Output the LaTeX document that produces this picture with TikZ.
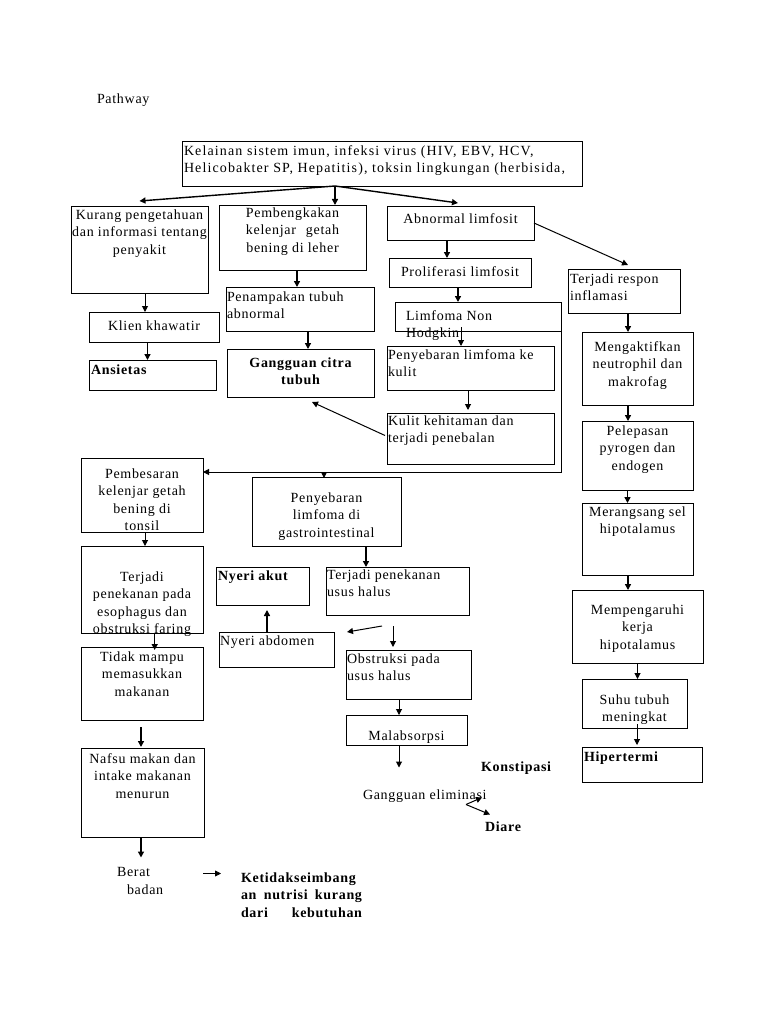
\documentclass[tikz,border=0pt]{standalone}
\usepackage{fontspec}
\setmainfont{Liberation Serif}[LetterSpace=5]
\usetikzlibrary{calc,arrows.meta}
\tikzset{
  box/.style={draw=black, line width=0.9pt, inner sep=0pt, outer sep=0pt},
  txt/.style={inner sep=0pt, outer sep=0pt, font=\fontsize{14}{17.5}\selectfont, execute at begin node={\rule{0pt}{10.5pt}}},
  bf/.style={font=\fontsize{14}{17.5}\selectfont\bfseries},
  arr/.style={line width=1pt, -{Triangle[length=6pt,width=6pt]}},
  arrthick/.style={arr, line width=1.4pt},
}
\newcommand\mybox[5]{\node[box, minimum width={(#4-#2)*1pt}, minimum height={(#5-#3)*1pt}] (#1) at ({(#2+#4)/2},{(#3+#5)/2}) {};}
\newcommand\mytext[6]{\node[txt,#2,anchor=#3] (#1) at (#4,{#5-6.5}) {#6};}
\begin{document}
\begin{tikzpicture}[x=1pt,y=-1pt]
\fill[white] (0,0) rectangle (768,1024);
\useasboundingbox (0,0) rectangle (768,1024);

% boxes
\mybox{top}{182}{141}{582}{186}
\mybox{kurang}{71}{206}{208}{293}
\mybox{pemb}{219}{205}{366}{270}
\mybox{abn}{387}{206}{534}{240}
\mybox{respon}{568}{269}{680}{313}
\mybox{prolif}{389}{258}{531}{287}
\mybox{lnh}{395}{302}{561}{331}
\mybox{kulita}{387}{346}{554}{390}
\mybox{kulitb}{387}{413}{554}{464}
\mybox{penamp}{226}{287}{374}{331}
\mybox{gcitra}{227}{349}{374}{397}
\mybox{klien}{89}{312}{219}{342}
\mybox{ansi}{89}{360}{216}{390}
\mybox{meng}{582}{332}{693}{405}
\mybox{pelep}{582}{421}{693}{490}
\mybox{meran}{582}{503}{693}{575}
\mybox{mempeng}{572}{590}{703}{663}
\mybox{suhu}{582}{679}{687}{728}
\mybox{hiper}{582}{747}{702}{782}
\mybox{pembes}{81}{458}{203}{532}
\mybox{esoph}{81}{546}{203}{633}
\mybox{tidak}{81}{647}{203}{720}
\mybox{nafsu}{81}{748}{204}{837}
\mybox{gastro}{252}{477}{401}{546}
\mybox{usus}{326}{567}{469}{615}
\mybox{nakut}{216}{567}{309}{605}
\mybox{nabd}{219}{632}{334}{667}
\mybox{obstr}{346}{650}{471}{699}
\mybox{malab}{346}{715}{467}{745}

% texts
\mytext{tpath}{}{north west}{97}{100}{Pathway}
\mytext{ttop}{align=left}{north west}{184}{152}{\addfontfeatures{LetterSpace=8}Kelainan sistem imun, infeksi virus (HIV, EBV, HCV,\\\addfontfeatures{LetterSpace=8}Helicobakter SP, Hepatitis), toksin lingkungan (herbisida,}
\mytext{tkurang}{align=center}{north}{139.5}{216}{Kurang pengetahuan\\dan informasi tentang\\penyakit}
\mytext{tpemb}{align=center}{north}{292.5}{214}{Pembengkakan\\kelenjar\hspace{10pt}getah\\bening di leher}
\mytext{tabn}{}{north}{460.5}{220}{Abnormal limfosit}
\mytext{trespon}{align=left}{north west}{570}{280}{Terjadi respon\\inflamasi}
\mytext{tprolif}{}{north}{460}{272}{Proliferasi limfosit}
\mytext{tlnh}{align=left}{north west}{406}{317}{Limfoma Non\\Hodgkin}
\mytext{tkulita}{align=left}{north west}{388}{356}{Penyebaran limfoma ke\\kulit}
\mytext{tkulitb}{align=left}{north west}{388}{422}{Kulit kehitaman dan\\terjadi penebalan}
\mytext{tpenamp}{align=left}{north west}{227}{298}{Penampakan tubuh\\abnormal}
\mytext{tgcitra}{align=center,bf}{north}{300.5}{364}{Gangguan citra\\tubuh}
\mytext{tklien}{}{north}{154}{326}{Klien khawatir}
\mytext{tansi}{bf}{north west}{91}{370}{Ansietas}
\mytext{tmeng}{align=center}{north}{637.5}{348}{Mengaktifkan\\neutrophil dan\\makrofag}
\mytext{tpelep}{align=center}{north}{637.5}{432}{Pelepasan\\pyrogen dan\\endogen}
\mytext{tmeran}{align=center}{north}{637.5}{513}{Merangsang sel\\hipotalamus}
\mytext{tmempeng}{align=center}{north}{637.5}{611}{Mempengaruhi\\kerja\\hipotalamus}
\mytext{tsuhu}{align=center}{north}{634.5}{701}{Suhu tubuh\\meningkat}
\mytext{thiper}{bf}{north west}{584}{757}{Hipertermi}
\mytext{tpembes}{align=center}{north}{142}{475}{Pembesaran\\kelenjar getah\\bening di\\tonsil}
\mytext{tesoph}{align=center}{north}{142}{578}{Terjadi\\penekanan pada\\esophagus dan\\obstruksi faring}
\mytext{ttidak}{align=center}{north}{142}{658}{Tidak mampu\\memasukkan\\makanan}
\mytext{tnafsu}{align=center}{north}{142.5}{760}{Nafsu makan dan\\intake makanan\\menurun}
\mytext{tberat}{align=left}{north west}{117}{874}{Berat\\\hspace*{10pt}badan}
\mytext{tketid}{align=left,bf}{north west}{241}{879}{Ketidakseimbang\\\makebox[121pt][s]{an nutrisi kurang}\\\makebox[121pt][s]{dari kebutuhan}}
\mytext{tgastro}{align=center}{north}{326.5}{499}{Penyebaran\\limfoma di\\gastrointestinal}
\mytext{tusus}{align=left}{north west}{327}{576}{Terjadi penekanan\\usus halus}
\mytext{tnakut}{bf}{north west}{218}{576}{Nyeri akut}
\mytext{tnabd}{}{north west}{220}{641}{Nyeri abdomen}
\mytext{tobstr}{align=left}{north west}{347}{660}{Obstruksi pada\\usus halus}
\mytext{tmalab}{}{north}{406.5}{736}{Malabsorpsi}
\mytext{telim}{}{north west}{363}{795}{Gangguan eliminasi}
\mytext{tkonst}{bf}{north west}{481}{767}{Konstipasi}
\mytext{tdiare}{bf}{north west}{485}{827}{Diare}

% connectors
\coordinate (split) at ($(top.south)+(-47,0)$);
\draw[arrthick] (split) -- ($(kurang.north)+(0,-5)$);
\draw[arrthick] (split) -- ($(pemb.north)+(42.5,0)$);
\draw[arrthick] (split) -- ($(abn.north)+(-2.5,-3)$);
\draw[arr] (abn.east) -- ($(respon.north)+(4,-4)$);
\draw[arrthick] ($(abn.south)+(-13.5,0)$) -- ($(prolif.north)+(-13,0)$);
\draw[arrthick] ($(prolif.south)+(-2,0)$) -- ($(lnh.north)+(-20,0)$);
\draw[arr] ($(lnh.south)+(-17,-4)$) -- ($(kulita.north)+(-9.5,0)$);
\draw[arr] ($(kulita.south)+(-2.5,0)$) -- ($(kulitb.north)+(-2.5,-3)$);
\draw[arr] ($(kulitb.west)+(-2,-3)$) -- ($(gcitra.south)+(11.5,5)$);
\coordinate (jn) at ($(lnh.south east)+(0,141)$);
\draw[arr] (lnh.south east) -- (jn) -- (jn -| pembes.east);
\draw[arr] ($(jn -| gastro.north)+(-2.5,0)$) -- ($(gastro.north)+(-2.5,1)$);
\draw[arrthick] ($(pemb.south)+(4.5,0)$) -- ($(penamp.north)+(-3,0)$);
\draw[arrthick] ($(penamp.south)+(8,0)$) -- ($(gcitra.north)+(7.5,0)$);
\draw[arr] ($(kurang.south)+(5.5,0)$) -- ($(klien.north)+(-9,0)$);
\draw[arrthick] ($(klien.south)+(-6.5,0)$) -- ($(ansi.north)+(-5,0)$);
\draw[arrthick] ($(respon.south)+(4,0)$) -- ($(meng.north)+(-9.5,0)$);
\draw[arrthick] ($(meng.south)+(-9.5,0)$) -- ($(pelep.north)+(-9.5,0)$);
\draw[arrthick] ($(pelep.south)+(-10,0)$) -- ($(meran.north)+(-10,0)$);
\draw[arrthick] ($(meran.south)+(-9.5,0)$) -- ($(mempeng.north)+(-9.5,0)$);
\draw[arr] (mempeng.south) -- ($(suhu.north)+(3,0)$);
\draw[arr] ($(suhu.south)+(2.5,-4)$) -- ($(hiper.north)+(-5,-2)$);
\draw[arr] ($(pembes.south)+(3,0)$) -- ($(esoph.north)+(3,0)$);
\draw[arrthick] ($(esoph.south)+(12.7,0)$) -- ($(tidak.north)+(12.7,3)$);
\draw[arrthick] ($(tidak.south)+(-1,7)$) -- ($(nafsu.north)+(-1.5,-1)$);
\draw[arrthick] ($(nafsu.south)+(-1.5,0)$) -- ($(tberat.north west)+(24,-10)$);
\draw[arr, line width=0.8pt] ($(tberat.north west)+(86,6)$) -- ($(tketid.north west)+(-20,1)$);
\draw[arrthick] ($(gastro.south)+(39.5,0)$) -- ($(usus.north)+(-31.5,0)$);
\draw[arrthick] ($(nabd.north)+(-9.5,0)$) -- ($(nakut.south)+(4.5,5)$);
\draw[arr] ($(usus.south)+(-15.5,11)$) -- ($(nabd.north east)+(13,0)$);
\draw[arr] ($(usus.south)+(-4.5,11)$) -- ($(obstr.north)+(-15.5,-3)$);
\draw[arr] ($(obstr.south)+(-9.5,0)$) -- ($(malab.north)+(-7.5,0)$);
\draw[arr] ($(malab.south)+(-7.5,0)$) -- ($(telim.north west)+(36,-21)$);
\coordinate (fork) at ($(telim.north west)+(103,16)$);
\draw[arr] (fork) -- ($(tkonst.north west)+(1,37)$);
\draw[arr] (fork) -- ($(tdiare.north west)+(5,-6)$);
\end{tikzpicture}
\end{document}
